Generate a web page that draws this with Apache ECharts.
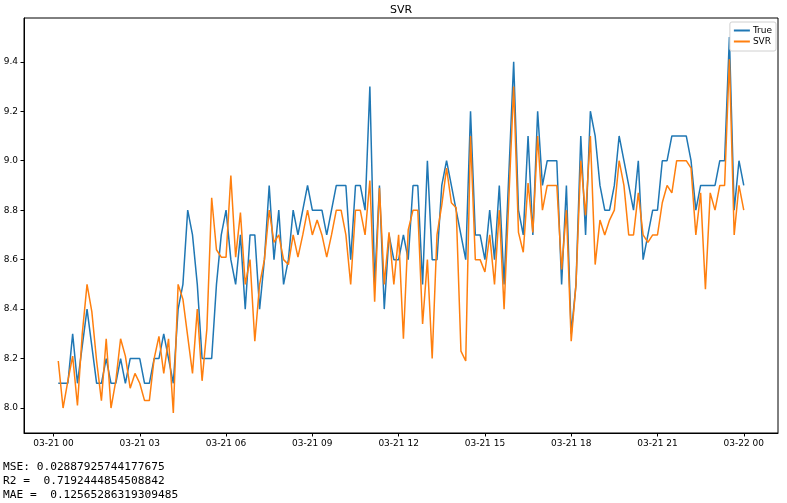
<!DOCTYPE html>
<html><head><meta charset="utf-8">
<script src="https://cdn.jsdelivr.net/npm/echarts@6/dist/echarts.min.js"></script>
<style>html,body{margin:0;padding:0;background:#fff}#c{width:787px;height:503px}</style>
</head><body><div id="c"></div>
<script>
const trueValues = [
8.1,8.1,8.1,8.3,8.1,8.25,8.4,8.25,8.1,8.1,8.2,8.1,8.1,8.2,8.1,8.2,8.2,8.2,8.1,8.1,
8.2,8.2,8.3,8.2,8.1,8.4,8.5,8.8,8.7,8.5,8.2,8.2,8.2,8.5,8.7,8.8,8.6,8.5,8.7,8.4,
8.7,8.7,8.4,8.6,8.9,8.6,8.8,8.5,8.6,8.8,8.7,8.8,8.9,8.8,8.8,8.8,8.7,8.8,8.9,8.9,
8.9,8.6,8.9,8.9,8.8,9.3,8.5,8.9,8.4,8.7,8.6,8.6,8.7,8.6,8.9,8.9,8.5,9.0,8.6,8.6,
8.9,9.0,8.9,8.8,8.7,8.6,9.2,8.7,8.7,8.6,8.8,8.6,8.9,8.5,8.95,9.4,8.8,8.7,9.1,8.7,
9.2,8.9,9.0,9.0,9.0,8.5,8.9,8.3,8.5,9.1,8.7,9.2,9.1,8.9,8.8,8.8,8.9,9.1,9.0,8.9,
8.8,9.0,8.6,8.7,8.8,8.8,9.0,9.0,9.1,9.1,9.1,9.1,9.0,8.8,8.9,8.9,8.9,8.9,9.0,9.0,
9.5,8.8,9.0,8.9];
const svrValues = [
8.19,8.00,8.11,8.21,8.01,8.30,8.50,8.39,8.19,8.03,8.28,8.00,8.11,8.28,8.21,8.08,8.14,8.10,8.03,8.03,
8.20,8.29,8.14,8.28,7.98,8.50,8.44,8.29,8.14,8.40,8.11,8.32,8.85,8.64,8.61,8.61,8.94,8.61,8.79,8.50,
8.60,8.27,8.50,8.60,8.80,8.67,8.70,8.60,8.58,8.70,8.61,8.70,8.80,8.70,8.76,8.70,8.61,8.70,8.80,8.80,
8.70,8.50,8.80,8.80,8.70,8.92,8.43,8.89,8.50,8.71,8.50,8.70,8.28,8.72,8.80,8.80,8.34,8.60,8.20,8.70,
8.82,8.97,8.83,8.81,8.23,8.19,9.10,8.60,8.60,8.55,8.70,8.50,8.80,8.40,8.85,9.30,8.71,8.63,8.91,8.71,
9.10,8.80,8.90,8.90,8.90,8.56,8.80,8.27,8.50,9.00,8.78,9.10,8.58,8.76,8.70,8.76,8.80,9.00,8.90,8.70,
8.70,8.87,8.70,8.67,8.70,8.70,8.83,8.90,8.87,9.00,9.00,9.00,8.97,8.70,8.87,8.48,8.87,8.80,8.90,8.90,
9.41,8.70,8.90,8.80];
const tickHours = [0,3,6,9,12,15,18,21,24];
const tickLabels = ['03-21 00','03-21 03','03-21 06','03-21 09','03-21 12','03-21 15','03-21 18','03-21 21','03-22 00'];
const yTicks = [8.0,8.2,8.4,8.6,8.8,9.0,9.2,9.4];
const metricLines = ['MSE: 0.02887925744177675','R2 =  0.7192444854508842','MAE =  0.12565286319309485'];
const stepHours = 1/6; // 10-minute samples starting 03-21 00:10
const hours = trueValues.map((_, i) => (i + 1) * stepHours);

const chart = echarts.init(document.getElementById('c'), null, {renderer:'canvas'});
const labelMap = {};
tickHours.forEach((h, i) => labelMap[h] = tickLabels[i]);
const font = '"DejaVu Sans", sans-serif';
chart.setOption({
  animation: false,
  backgroundColor: '#fff',
  title: {text: 'SVR', left: 401, top: 5, padding: 0, textAlign: 'center',
    textStyle: {fontFamily: font, fontSize: 11, fontWeight: 'normal', color: '#000'}},
  legend: {
    orient: 'vertical', right: 11, top: 22,
    data: ['True', 'SVR'],
    icon: 'rect', itemWidth: 16, itemHeight: 2, itemGap: 2,
    padding: [4, 4, 5, 4],
    borderColor: '#d0d0d0', borderWidth: 1, borderRadius: 2, backgroundColor: '#fff',
    textStyle: {fontFamily: font, fontSize: 9, color: '#000', padding: [0,0,0,-2]}
  },
  grid: {left: 24, right: 9, top: 18, bottom: 70, show: true, borderColor: '#000', borderWidth: 1},
  xAxis: {
    type: 'value', min: -1.025, max: 25.19,
    axisLine: {show: true, onZero: false, lineStyle: {color: '#000', width: 1}},
    axisTick: {show: true, customValues: tickHours, length: 3.5, lineStyle: {color: '#000'}},
    axisLabel: {customValues: tickHours, formatter: v => labelMap[Math.round(v)] || '', margin: 6,
      fontFamily: font, fontSize: 9, color: '#000'},
    splitLine: {show: false}
  },
  yAxis: {
    type: 'value', min: 7.899, max: 9.577,
    axisLine: {show: true, onZero: false, lineStyle: {color: '#000', width: 1}},
    axisTick: {show: true, customValues: yTicks, length: 3.5, lineStyle: {color: '#000'}},
    axisLabel: {customValues: yTicks, formatter: v => v.toFixed(1), margin: 6,
      fontFamily: font, fontSize: 9, color: '#000'},
    splitLine: {show: false}
  },
  series: [
    {name: 'True', type: 'line', data: hours.map((h, i) => [h, trueValues[i]]), showSymbol: false,
      lineStyle: {color: '#1f77b4', width: 1.5}, itemStyle: {color: '#1f77b4'}},
    {name: 'SVR', type: 'line', data: hours.map((h, i) => [h, svrValues[i]]), showSymbol: false,
      lineStyle: {color: '#ff7f0e', width: 1.5}, itemStyle: {color: '#ff7f0e'}}
  ],
  graphic: metricLines.map((t, i) => ({
    type: 'text', left: 3, top: 462 + i * 13.6,
    style: {text: t, font: '11.2px "DejaVu Sans Mono", monospace', fill: '#000'}
  }))
});
</script></body></html>
